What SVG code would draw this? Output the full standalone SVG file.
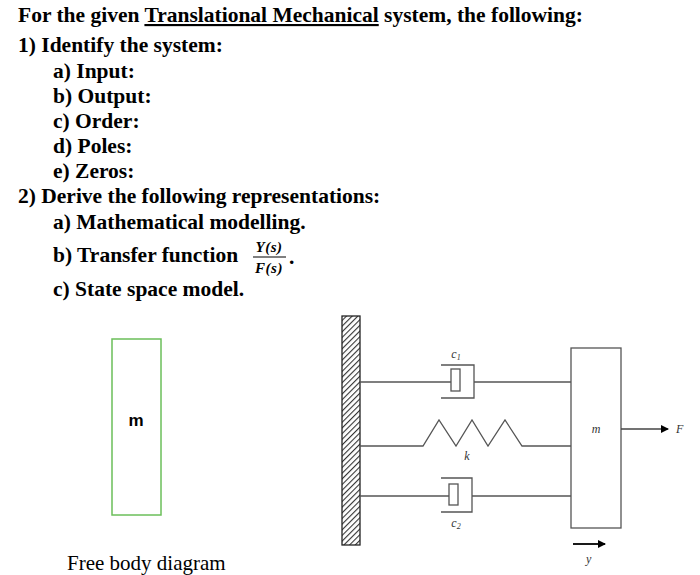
<svg xmlns="http://www.w3.org/2000/svg" width="700" height="575" viewBox="0 0 700 575">
<style>
.t{font-family:"Liberation Serif",serif;font-weight:bold;font-size:21.5px;fill:#000}
.fr{font-family:"Liberation Serif",serif;font-weight:bold;font-style:italic;font-size:15px;letter-spacing:0.5px;fill:#000}
.it{font-family:"Liberation Serif",serif;font-style:italic;font-size:12px;fill:#333}
.ln{stroke:#555;stroke-width:1.3;fill:none}
</style>
<defs>
<pattern id="h" width="4" height="4" patternUnits="userSpaceOnUse" patternTransform="rotate(45)">
<rect width="4" height="4" fill="#fff"/><line x1="0" y1="0" x2="0" y2="4" stroke="#333" stroke-width="2.2"/>
</pattern>
<marker id="a" markerWidth="8" markerHeight="8" refX="7" refY="4" orient="auto" markerUnits="userSpaceOnUse"><path d="M0,0L8,4L0,8z" fill="#000"/></marker>
</defs>
<rect width="700" height="575" fill="#fff"/>
<g id="text">
<text class="t" x="18" y="22">For the given <tspan text-decoration="underline">Translational Mechanical</tspan> system, the following:</text>
<text class="t" x="18" y="52">1) Identify the system:</text>
<text class="t" x="53" y="78">a) Input:</text>
<text class="t" x="53" y="103">b) Output:</text>
<text class="t" x="53" y="128">c) Order:</text>
<text class="t" x="53" y="153">d) Poles:</text>
<text class="t" x="53" y="178">e) Zeros:</text>
<text class="t" x="18" y="203">2) Derive the following representations:</text>
<text class="t" x="53" y="229">a) Mathematical modelling.</text>
<text class="t" x="53" y="262">b) Transfer function</text>
<text class="fr" x="269" y="252" text-anchor="middle">Y(s)</text>
<line x1="253" y1="257" x2="286" y2="257" stroke="#000" stroke-width="1.2"/>
<text class="fr" x="269" y="273" text-anchor="middle">F(s)</text>
<text class="t" x="289" y="264">.</text>
<text class="t" x="53" y="296">c) State space model.</text>
</g>
<g id="fbd">
<rect x="112" y="339" width="49" height="176" fill="none" stroke="#6bbf5a" stroke-width="1.5"/>
<text x="136" y="426" text-anchor="middle" font-family="Liberation Sans,sans-serif" font-weight="bold" font-size="17">m</text>
<text x="67" y="570" font-family="Liberation Serif,serif" font-size="21">Free body diagram</text>
</g>
<g id="wall"><rect x="342" y="316" width="18" height="229" fill="url(#h)" stroke="#222" stroke-width="1.3"/></g>
<g id="mass"><rect x="571" y="348" width="50" height="180" fill="#fff" stroke="#555" stroke-width="1.3"/>
<text class="it" x="596" y="433" text-anchor="middle">m</text></g>
<g id="connectors">
<path class="ln" d="M360,382H451M441,365H474V398H441M474,382H571"/>
<rect x="451" y="369" width="9" height="22" class="ln" fill="#fff"/>
<text class="it" x="456" y="358" text-anchor="middle">c<tspan font-size="8" dy="2">1</tspan></text>
<path class="ln" d="M360,446H423L439,420L456,446L472,420L488,446L505,420L522,446H571"/>
<text class="it" x="467" y="460" text-anchor="middle">k</text>
<path class="ln" d="M360,496H449M441,478H472V512H441M472,496H571"/>
<rect x="449" y="484" width="9" height="21" class="ln" fill="#fff"/>
<text class="it" x="456" y="527" text-anchor="middle">c<tspan font-size="8" dy="2">2</tspan></text>
<line x1="621" y1="429" x2="668" y2="429" stroke="#444" stroke-width="1.3" marker-end="url(#a)"/>
<text class="it" x="676" y="433">F</text>
<line x1="573" y1="544" x2="605" y2="544" stroke="#000" stroke-width="1.8" marker-end="url(#a)"/>
<text class="it" x="586" y="563">y</text>
</g>
</svg>
